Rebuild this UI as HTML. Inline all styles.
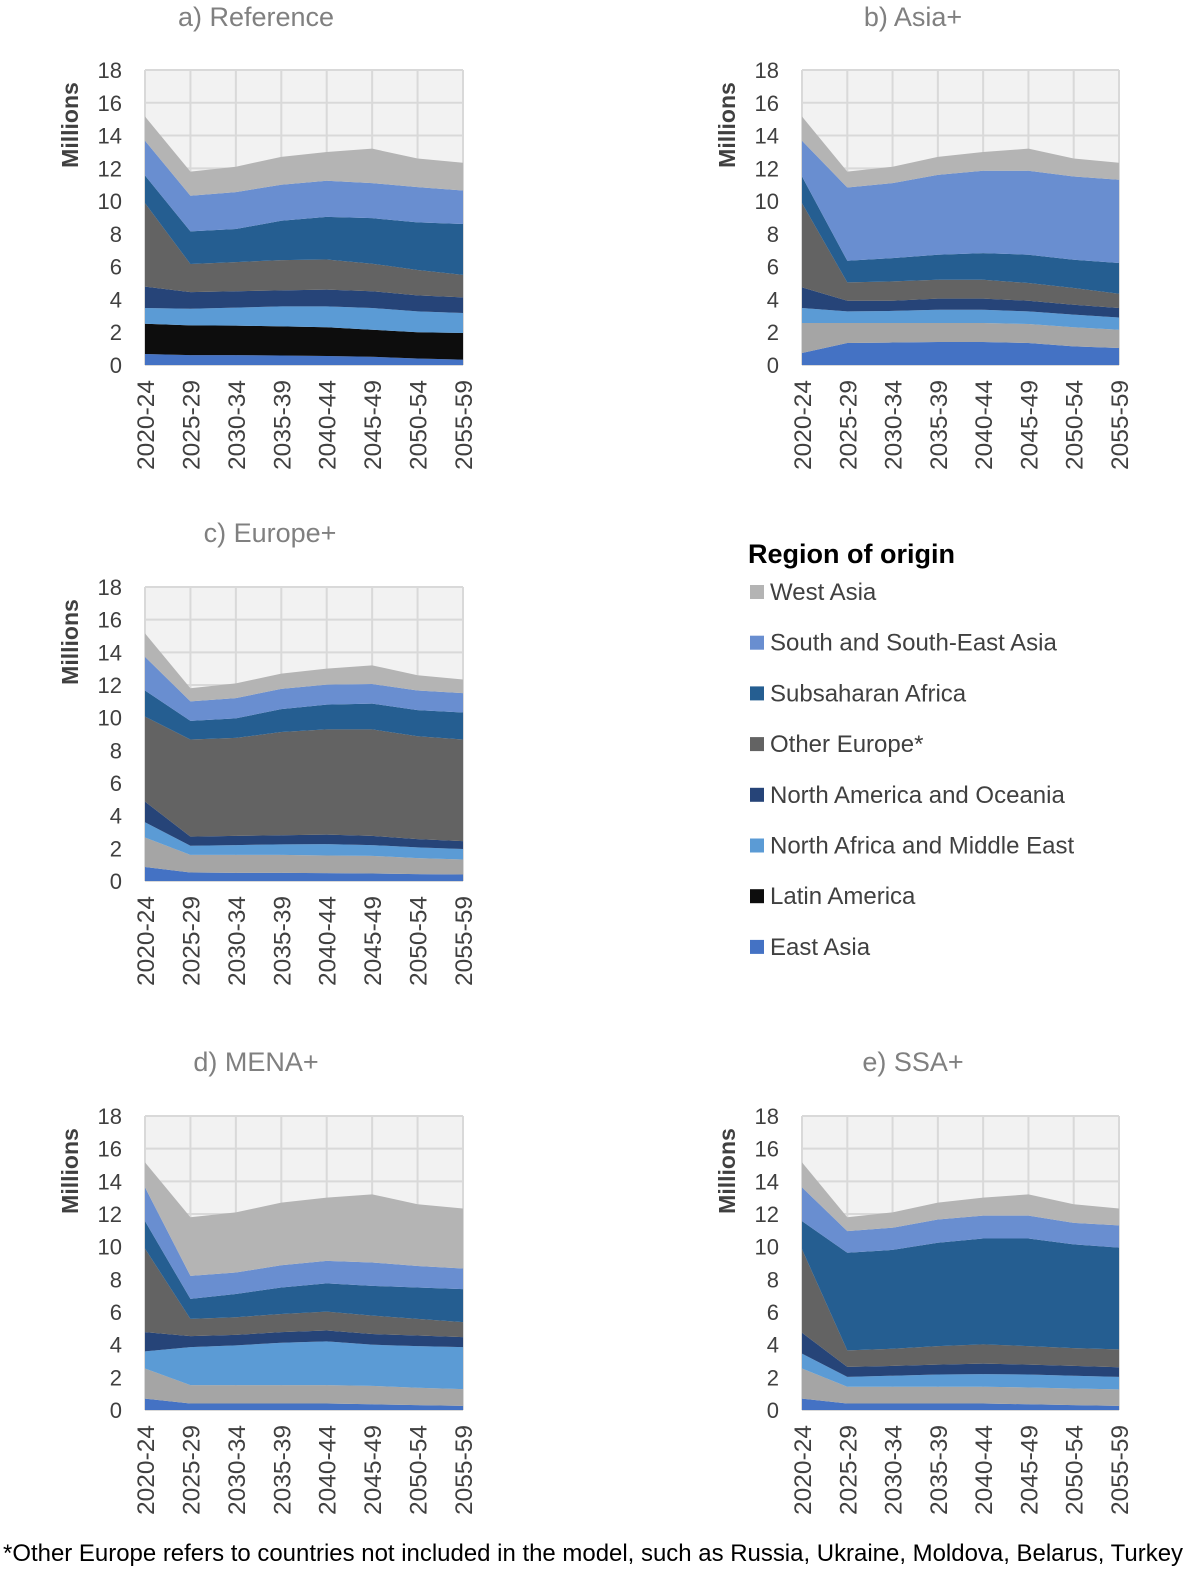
<!DOCTYPE html>
<html><head><meta charset="utf-8">
<style>
body{margin:0;background:#fff;}
svg{display:block;font-family:"Liberation Sans","DejaVu Sans",sans-serif;}
</style></head>
<body>
<svg id="chart" width="1200" height="1585" viewBox="0 0 1200 1585" xmlns="http://www.w3.org/2000/svg">
<g id="panels"></g>
<g id="legend">
<text x="748" y="563" font-size="27" font-weight="bold" fill="#000">Region of origin</text>
</g>
<text x="3" y="1561" font-size="24" fill="#000" textLength="1180" lengthAdjust="spacingAndGlyphs">*Other Europe refers to countries not included in the model, such as Russia, Ukraine, Moldova, Belarus, Turkey</text>
</svg>
<script>
const categories = ["2020-24","2025-29","2030-34","2035-39","2040-44","2045-49","2050-54","2055-59"];
const yTicks = [0,2,4,6,8,10,12,14,16,18];
const seriesNames = ["East Asia","Latin America","North Africa and Middle East","North America and Oceania","Other Europe*","Subsaharan Africa","South and South-East Asia","West Asia"];
const panelTitles = ["a) Reference","b) Asia+","c) Europe+","d) MENA+","e) SSA+"];

// Panel a) Reference
const refEastAsia   = [0.67,0.6,0.6,0.58,0.55,0.5,0.4,0.33];
const refLatAm      = [1.85,1.82,1.8,1.78,1.75,1.65,1.6,1.62];
const refNAME       = [0.96,1.01,1.1,1.22,1.28,1.33,1.27,1.22];
const refNAO        = [1.3,1.02,1.0,0.97,1.02,1.02,0.98,0.96];
const refOtherEur   = [5.1,1.71,1.78,1.85,1.84,1.68,1.55,1.37];
const refSSA        = [1.68,1.99,2.02,2.4,2.6,2.78,2.9,3.1];
const refSSEA       = [2.12,2.18,2.25,2.2,2.2,2.14,2.15,2.05];
const refWestAsia   = [1.48,1.47,1.55,1.7,1.76,2.1,1.75,1.69];
// Panel b) Asia+
const asiaEastAsia  = [0.73,1.34,1.37,1.4,1.4,1.34,1.14,1.04];
const asiaLatAm     = [1.83,1.22,1.19,1.16,1.16,1.16,1.16,1.11];
const asiaNAME      = [0.92,0.71,0.74,0.81,0.81,0.77,0.77,0.75];
const asiaNAO       = [1.26,0.65,0.62,0.68,0.68,0.65,0.61,0.58];
const asiaOtherEur  = [5.14,1.12,1.18,1.15,1.15,1.08,1.02,0.87];
const asiaSSA       = [1.62,1.32,1.42,1.53,1.63,1.73,1.72,1.87];
const asiaSSEA      = [2.18,4.47,4.58,4.87,5.02,5.12,5.08,5.08];
const asiaWestAsia  = [1.48,0.97,1.0,1.1,1.15,1.35,1.1,1.04];
// Panel c) Europe+
const eurEastAsia   = [0.86,0.52,0.5,0.5,0.48,0.46,0.42,0.4];
const eurLatAm      = [1.8,1.08,1.1,1.1,1.08,1.08,0.98,0.92];
const eurNAME       = [0.94,0.56,0.6,0.64,0.7,0.66,0.66,0.64];
const eurNAO        = [1.26,0.56,0.56,0.56,0.58,0.56,0.5,0.48];
const eurOtherEur   = [5.2,5.94,6.0,6.32,6.44,6.52,6.3,6.22];
const eurSSA        = [1.6,1.14,1.2,1.4,1.52,1.58,1.6,1.66];
const eurSSEA       = [2.06,1.2,1.24,1.24,1.22,1.2,1.2,1.18];
const eurWestAsia   = [1.44,0.8,0.9,0.94,0.98,1.14,0.94,0.84];
// Panel d) MENA+
const menaEastAsia  = [0.7,0.4,0.4,0.4,0.4,0.35,0.3,0.25];
const menaLatAm     = [1.84,1.12,1.12,1.12,1.12,1.13,1.06,1.03];
const menaNAME      = [1.05,2.33,2.44,2.6,2.68,2.52,2.55,2.57];
const menaNAO       = [1.18,0.67,0.64,0.65,0.67,0.65,0.65,0.61];
const menaOtherEur  = [5.11,1.06,1.08,1.11,1.15,1.13,1.02,0.92];
const menaSSA       = [1.68,1.22,1.42,1.62,1.73,1.82,1.92,2.02];
const menaSSEA      = [2.07,1.41,1.32,1.36,1.38,1.43,1.32,1.26];
const menaWestAsia  = [1.53,3.59,3.68,3.84,3.87,4.17,3.78,3.68];
// Panel e) SSA+
const ssaEastAsia   = [0.7,0.4,0.4,0.4,0.4,0.35,0.3,0.25];
const ssaLatAm      = [1.84,1.02,1.02,1.02,1.02,1.03,1.02,1.01];
const ssaNAME       = [0.91,0.61,0.68,0.75,0.78,0.79,0.78,0.77];
const ssaNAO        = [1.28,0.61,0.6,0.61,0.64,0.61,0.6,0.59];
const ssaOtherEur   = [5.11,1.01,1.05,1.13,1.18,1.13,1.09,1.09];
const ssaSSA        = [1.72,5.98,6.05,6.33,6.48,6.59,6.35,6.23];
const ssaSSEA       = [2.07,1.32,1.36,1.42,1.4,1.4,1.32,1.36];
const ssaWestAsia   = [1.53,0.85,0.94,1.04,1.1,1.3,1.14,1.04];

const panelSeries = [
 [refEastAsia,refLatAm,refNAME,refNAO,refOtherEur,refSSA,refSSEA,refWestAsia],
 [asiaEastAsia,asiaLatAm,asiaNAME,asiaNAO,asiaOtherEur,asiaSSA,asiaSSEA,asiaWestAsia],
 [eurEastAsia,eurLatAm,eurNAME,eurNAO,eurOtherEur,eurSSA,eurSSEA,eurWestAsia],
 [menaEastAsia,menaLatAm,menaNAME,menaNAO,menaOtherEur,menaSSA,menaSSEA,menaWestAsia],
 [ssaEastAsia,ssaLatAm,ssaNAME,ssaNAO,ssaOtherEur,ssaSSA,ssaSSEA,ssaWestAsia]
];

const colorsRef = ["#4472c4","#0d0d0d","#5b9bd5","#264478","#636363","#255e91","#698ed0","#b4b4b4"];
const colorsOther = ["#4472c4","#a5a5a5","#5b9bd5","#264478","#636363","#255e91","#698ed0","#b4b4b4"];
const layout = [
 {x:145,y:70,w:318,h:295,tx:256,ty:26},
 {x:802,y:70,w:317,h:295,tx:913,ty:26},
 {x:145,y:587,w:318,h:294,tx:270,ty:542},
 {x:145,y:1116,w:318,h:294,tx:256,ty:1071},
 {x:802,y:1116,w:317,h:294,tx:913,ty:1071}
];
const NS="http://www.w3.org/2000/svg";
function mk(tag,attrs,parent){const e=document.createElementNS(NS,tag);for(const k in attrs)e.setAttribute(k,attrs[k]);parent.appendChild(e);return e;}
const root=document.getElementById('panels');
const slugs=["east-asia","latin-america","north-africa-middle-east","north-america-oceania","other-europe","subsaharan-africa","south-southeast-asia","west-asia"];
const pslug=["reference","asia","europe","mena","ssa"];

layout.forEach((L,p)=>{
  const g=mk('g',{},root);
  
  
  const xS=i=>L.x+i*L.w/(categories.length-1);
  const yS=v=>L.y+L.h-v/18*L.h;
  const bg=mk('rect',{x:L.x,y:L.y,width:L.w,height:L.h,fill:"#f2f2f2"},g);
  
  
  yTicks.forEach(t=>{
    const ln=mk('line',{x1:L.x,x2:L.x+L.w,y1:yS(t),y2:yS(t),stroke:"#d9d9d9","stroke-width":2},g);
    
    
    const tx=mk('text',{x:L.x-23,y:yS(t)+8,"font-size":22,"text-anchor":"end",fill:"#404040"},g);
    tx.textContent=t;
    
    
  });
  categories.forEach((c,i)=>{
    const ln=mk('line',{x1:xS(i),x2:xS(i),y1:L.y,y2:L.y+L.h,stroke:"#d9d9d9","stroke-width":2},g);
    
    
    const tx=mk('text',{x:0,y:0,"font-size":24,"text-anchor":"end",fill:"#404040",textLength:90,lengthAdjust:"spacingAndGlyphs",transform:`translate(${xS(i)+9},${L.y+L.h+15}) rotate(-90)`},g);
    tx.textContent=c;
    
    
  });
  const series=panelSeries[p];
  const cols=p===0?colorsRef:colorsOther;
  const base=categories.map(()=>0);
  series.forEach((vals,s)=>{
    const top=vals.map((v,i)=>base[i]+v);
    let d="M"+top.map((v,i)=>xS(i)+","+yS(v)).join(" L");
    for(let i=categories.length-1;i>=0;i--) d+=" L"+xS(i)+","+yS(base[i]);
    d+=" Z";
    const path=mk('path',{d:d,fill:cols[s]},g);
    
    
    top.forEach((v,i)=>base[i]=v);
  });
  const yt=mk('text',{x:0,y:0,"font-size":23,"font-weight":"bold","text-anchor":"middle",fill:"#404040",transform:`translate(${L.x-67},${L.y+55}) rotate(-90)`},g);
  yt.textContent="Millions";
  
  
  const ti=mk('text',{x:L.tx,y:L.ty,"font-size":27,"text-anchor":"middle",fill:"#808080"},g);
  ti.textContent=panelTitles[p];
  
  
});

const lg=document.getElementById('legend');
const legendOrder=[7,6,5,4,3,2,1,0];
legendOrder.forEach((s,k)=>{
  const y=592+k*50.7;
  const gi=mk('g',{},lg);
  
  
  mk('rect',{x:750,y:y-7,width:14,height:14,fill:colorsRef[s]},gi);
  const t=mk('text',{x:770,y:y+8,"font-size":24,fill:"#404040"},gi);
  t.textContent=seriesNames[s];
});
</script>
</body></html>
